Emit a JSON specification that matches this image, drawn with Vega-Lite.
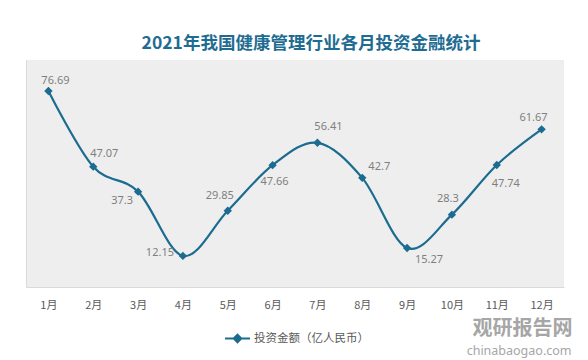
{
  "$schema": "https://vega.github.io/schema/vega-lite/v6.json",
  "width": 538,
  "height": 227,
  "autosize": {"type": "none"},
  "padding": {"left": 26, "top": 60, "right": 24, "bottom": 73},
  "background": "#ffffff",
  "config": {
    "view": {"stroke": null, "fill": "#eeeeee"},
    "font": "Noto Sans CJK SC"
  },
  "title": {
    "text": "2021年我国健康管理行业各月投资金融统计",
    "font": "Noto Sans CJK SC",
    "fontSize": 17.5,
    "fontWeight": "bold",
    "color": "#1f6c93",
    "anchor": "middle",
    "offset": 8,
    "dx": 16
  },
  "data": {
    "values": [
      {"month": "1月", "value": 76.69},
      {"month": "2月", "value": 47.07},
      {"month": "3月", "value": 37.3},
      {"month": "4月", "value": 12.15},
      {"month": "5月", "value": 29.85},
      {"month": "6月", "value": 47.66},
      {"month": "7月", "value": 56.41},
      {"month": "8月", "value": 42.7},
      {"month": "9月", "value": 15.27},
      {"month": "10月", "value": 28.3},
      {"month": "11月", "value": 47.74},
      {"month": "12月", "value": 61.67}
    ]
  },
  "encoding": {
    "x": {
      "field": "month",
      "type": "ordinal",
      "sort": null,
      "scale": {"type": "point", "padding": 0.5},
      "axis": {
        "title": "观研报告网",
        "titleFont": "Noto Sans CJK SC",
        "titleFontSize": 20,
        "titleFontWeight": "bold",
        "titleColor": "#a6a6a6",
        "titleAngle": 0,
        "titleAlign": "right",
        "titleBaseline": "middle",
        "titleX": 546,
        "titleY": 41,
        "labelAngle": 0,
        "labelFont": "Noto Sans CJK SC",
        "labelFontSize": 11,
        "labelColor": "#595959",
        "labelPadding": 12,
        "ticks": false,
        "domainColor": "#d9d9d9",
        "domainWidth": 1,
        "grid": false
      }
    },
    "y": {
      "field": "value",
      "type": "quantitative",
      "scale": {"domain": [0, 88.8], "nice": false, "zero": true},
      "axis": {
        "title": "chinabaogao.com",
        "titleFont": "Noto Sans",
        "titleFontSize": 12.5,
        "titleFontWeight": "normal",
        "titleColor": "#a6a6a6",
        "titleAngle": 0,
        "titleAlign": "right",
        "titleBaseline": "middle",
        "titleX": 545,
        "titleY": 290,
        "labels": false,
        "ticks": false,
        "grid": false,
        "domainColor": "#d9d9d9",
        "domainWidth": 1
      }
    }
  },
  "layer": [
    {
      "mark": {"type": "line", "interpolate": "cardinal", "strokeWidth": 2.2},
      "encoding": {
        "color": {
          "datum": "投资金额（亿人民币）",
          "type": "nominal",
          "scale": {"range": ["#1c6b90"]},
          "legend": {
            "orient": "none",
            "legendX": 198,
            "legendY": 265,
            "title": null,
            "padding": 0,
            "symbolType": "M-1,0L1,0M-0.3,0L0,-0.3L0.3,0L0,0.3Z",
            "symbolSize": 625,
            "symbolStrokeWidth": 2,
            "symbolFillColor": "#1c6b90",
            "symbolStrokeColor": "#1c6b90",
            "labelFont": "Noto Sans CJK SC",
            "labelFontSize": 11.5,
            "labelColor": "#595959",
            "labelOffset": 3
          }
        }
      }
    },
    {
      "mark": {"type": "point", "shape": "diamond", "filled": true, "size": 70, "opacity": 1},
      "encoding": {
        "color": {"datum": "投资金额（亿人民币）", "type": "nominal"}
      }
    },
    {"transform": [{"filter": "datum.month === '1月'"}], "mark": {"type": "text", "dx": 7, "dy": -10, "fontSize": 11, "font": "Noto Sans", "color": "#7f7f7f"}, "encoding": {"text": {"field": "value", "type": "nominal"}}},
    {"transform": [{"filter": "datum.month === '2月'"}], "mark": {"type": "text", "dx": 11, "dy": -13, "fontSize": 11, "font": "Noto Sans", "color": "#7f7f7f"}, "encoding": {"text": {"field": "value", "type": "nominal"}}},
    {"transform": [{"filter": "datum.month === '3月'"}], "mark": {"type": "text", "dx": -16, "dy": 9, "fontSize": 11, "font": "Noto Sans", "color": "#7f7f7f"}, "encoding": {"text": {"field": "value", "type": "nominal"}}},
    {"transform": [{"filter": "datum.month === '4月'"}], "mark": {"type": "text", "dx": -23, "dy": -3, "fontSize": 11, "font": "Noto Sans", "color": "#7f7f7f"}, "encoding": {"text": {"field": "value", "type": "nominal"}}},
    {"transform": [{"filter": "datum.month === '5月'"}], "mark": {"type": "text", "dx": -8, "dy": -15, "fontSize": 11, "font": "Noto Sans", "color": "#7f7f7f"}, "encoding": {"text": {"field": "value", "type": "nominal"}}},
    {"transform": [{"filter": "datum.month === '6月'"}], "mark": {"type": "text", "dx": 2, "dy": 17, "fontSize": 11, "font": "Noto Sans", "color": "#7f7f7f"}, "encoding": {"text": {"field": "value", "type": "nominal"}}},
    {"transform": [{"filter": "datum.month === '7月'"}], "mark": {"type": "text", "dx": 11, "dy": -16, "fontSize": 11, "font": "Noto Sans", "color": "#7f7f7f"}, "encoding": {"text": {"field": "value", "type": "nominal"}}},
    {"transform": [{"filter": "datum.month === '8月'"}], "mark": {"type": "text", "dx": 17, "dy": -11, "fontSize": 11, "font": "Noto Sans", "color": "#7f7f7f"}, "encoding": {"text": {"field": "value", "type": "nominal"}}},
    {"transform": [{"filter": "datum.month === '9月'"}], "mark": {"type": "text", "dx": 22, "dy": 12, "fontSize": 11, "font": "Noto Sans", "color": "#7f7f7f"}, "encoding": {"text": {"field": "value", "type": "nominal"}}},
    {"transform": [{"filter": "datum.month === '10月'"}], "mark": {"type": "text", "dx": -4, "dy": -16, "fontSize": 11, "font": "Noto Sans", "color": "#7f7f7f"}, "encoding": {"text": {"field": "value", "type": "nominal"}}},
    {"transform": [{"filter": "datum.month === '11月'"}], "mark": {"type": "text", "dx": 9, "dy": 19, "fontSize": 11, "font": "Noto Sans", "color": "#7f7f7f"}, "encoding": {"text": {"field": "value", "type": "nominal"}}},
    {"transform": [{"filter": "datum.month === '12月'"}], "mark": {"type": "text", "dx": -8, "dy": -11, "fontSize": 11, "font": "Noto Sans", "color": "#7f7f7f"}, "encoding": {"text": {"field": "value", "type": "nominal"}}}
  ]
}
